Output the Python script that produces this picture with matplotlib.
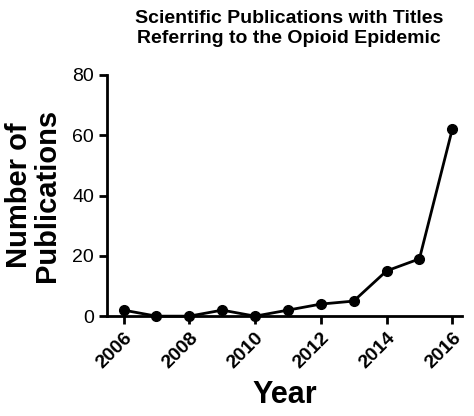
import matplotlib
matplotlib.use("Agg")
import matplotlib.pyplot as plt
plt.rcParams['font.family'] = ['Liberation Sans', 'DejaVu Sans']

years = [2006, 2007, 2008, 2009, 2010, 2011, 2012, 2013, 2014, 2015, 2016]
pubs = [2, 0, 0, 2, 0, 2, 4, 5, 15, 19, 62]
xticks = [2006, 2008, 2010, 2012, 2014, 2016]
yticks = [0, 20, 40, 60, 80]

fig = plt.figure(figsize=(4.74, 4.16), dpi=100)
ax = fig.add_axes([0.226, 0.240, 0.749, 0.580])
ax.plot(years, pubs, color='black', lw=2, marker='o', ms=7, clip_on=False, zorder=3)
ax.set_xlim(2005.5, 2016.3)
ax.set_ylim(0, 80)
ax.set_xticks(xticks)
ax.set_yticks(yticks)
for s in ['top', 'right']:
    ax.spines[s].set_visible(False)
for s in ['left', 'bottom']:
    ax.spines[s].set_linewidth(2)
ax.tick_params(width=2, length=6, labelsize=14)
for lbl in ax.get_xticklabels():
    lbl.set_rotation(45)
    lbl.set_ha('right')
    lbl.set_rotation_mode('anchor')
    lbl.set_fontweight('bold')
ax.set_xlabel('Year', fontsize=22, fontweight='bold', labelpad=6)
ax.set_ylabel('Number of\nPublications', fontsize=21, fontweight='bold', labelpad=8, linespacing=1.0)
fig.text(0.61, 0.975, 'Scientific Publications with Titles\nReferring to the Opioid Epidemic',
         ha='center', va='top', fontsize=14, fontweight='bold', linespacing=1.2)
fig.savefig('out.png', dpi=100)
